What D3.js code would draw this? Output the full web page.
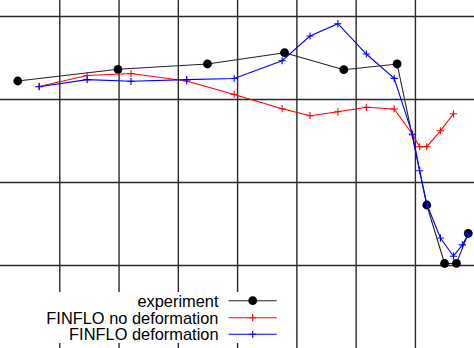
<!DOCTYPE html>
<html>
<head>
<meta charset="utf-8">
<script src="https://cdn.jsdelivr.net/npm/d3@7"></script>
<style>
html,body{margin:0;padding:0;background:#fff;}
svg{display:block;}
text{font-family:"Liberation Sans",Arial,Helvetica,sans-serif;}
</style>
</head>
<body>
<script>
// ---- data ----
const expX = [0.030, 0.199, 0.350, 0.480, 0.580, 0.670, 0.720, 0.750, 0.770, 0.790];
const expY = [3.217, 3.358, 3.422, 3.558, 3.353, 3.422, 1.723, 1.018, 1.020, 1.382];

const noDefX = [0.066, 0.147, 0.221, 0.315, 0.395, 0.476, 0.523, 0.570, 0.618, 0.665, 0.6955, 0.708, 0.720, 0.743, 0.765];
const noDefY = [3.151, 3.283, 3.307, 3.217, 3.055, 2.883, 2.799, 2.846, 2.900, 2.880, 2.578, 2.425, 2.425, 2.617, 2.822];

const defX = [0.066, 0.147, 0.221, 0.315, 0.395, 0.476, 0.523, 0.570, 0.618, 0.665, 0.696, 0.708, 0.720, 0.743, 0.765, 0.780, 0.790];
const defY = [3.148, 3.233, 3.213, 3.233, 3.247, 3.461, 3.759, 3.907, 3.542, 3.249, 2.570, 2.136, 1.735, 1.325, 1.106, 1.243, 1.370];

const xTicks = [0.1, 0.2, 0.3, 0.4, 0.5, 0.6, 0.7];
const yTicks = [1, 2, 3, 4];

const seriesNames = ["experiment", "FINFLO no deformation", "FINFLO deformation"];
const seriesColors = ["#000000", "#ff0000", "#0000ff"];

// ---- chart ----
const W = 474, H = 348;
const svg = d3.select("body").append("svg").attr("width", W).attr("height", H);

const x = d3.scaleLinear().domain([0, 0.8]).range([0, 474.2]);
const y = d3.scaleLinear().domain([0, 4.1928]).range([348, 0]);

// grid via axes
const gx = svg.append("g").attr("transform", `translate(0,${H})`)
  .call(d3.axisBottom(x).tickValues(xTicks).tickSize(-H).tickFormat(""));
gx.select(".domain").remove();
gx.selectAll("line").attr("stroke", "#2a2a2a").attr("stroke-width", 1.4);

const gy = svg.append("g")
  .call(d3.axisLeft(y).tickValues(yTicks).tickSize(-W).tickFormat(""));
gy.select(".domain").remove();
gy.selectAll("line").attr("stroke", "#2a2a2a").attr("stroke-width", 1.4);

// legend background
svg.append("rect").attr("x", -5).attr("y", 292).attr("width", 285).attr("height", 51).attr("fill", "#fff");

const series = [
  {x: expX, y: expY, type: "dot"},
  {x: noDefX, y: noDefY, type: "plus"},
  {x: defX, y: defY, type: "plus"}
];

const line = d3.line().x(d => x(d[0])).y(d => y(d[1]));

function drawMarker(g, px, py, type, color) {
  if (type === "dot") {
    g.append("circle").attr("cx", px).attr("cy", py).attr("r", 4.4).attr("fill", color);
  } else {
    const s = 3.6;
    g.append("path").attr("d", `M${px - s},${py}H${px + s}M${px},${py - s}V${py + s}`)
      .attr("stroke", color).attr("stroke-width", 1.1).attr("fill", "none");
  }
}

series.forEach((s, i) => {
  const pts = s.x.map((v, j) => [v, s.y[j]]);
  const g = svg.append("g");
  g.append("path").datum(pts).attr("d", line).attr("fill", "none")
    .attr("stroke", i === 0 ? "#222" : seriesColors[i]).attr("stroke-width", 1.1);
  pts.forEach(p => drawMarker(g, x(p[0]), y(p[1]), s.type, seriesColors[i]));
});

// legend
const legRows = [300.7, 317.7, 334.3];
seriesNames.forEach((name, i) => {
  const g = svg.append("g");
  g.append("text").attr("x", 218.5).attr("y", legRows[i] + 6)
    .attr("text-anchor", "end").attr("font-size", "16.4px").attr("fill", "#000").text(name);
  g.append("line").attr("x1", 228.5).attr("x2", 276.7).attr("y1", legRows[i]).attr("y2", legRows[i])
    .attr("stroke", i === 0 ? "#222" : seriesColors[i]).attr("stroke-width", 1.1);
  drawMarker(g, 252.7, legRows[i], series[i].type, seriesColors[i]);
});
</script>
</body>
</html>
